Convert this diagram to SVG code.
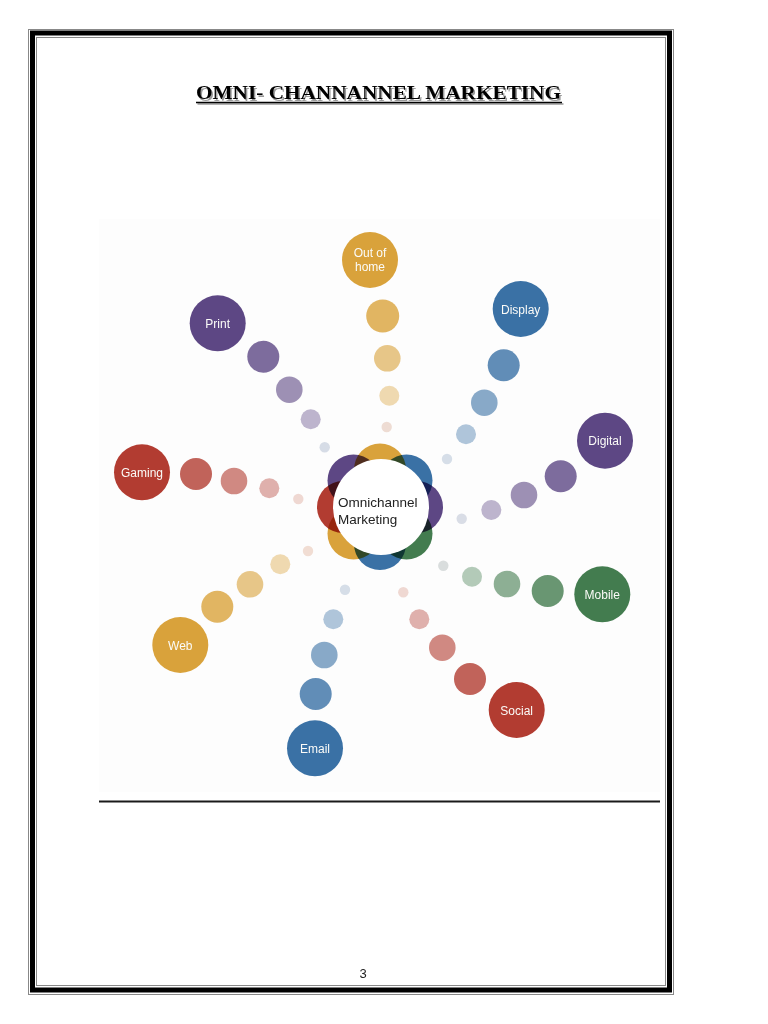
<svg xmlns="http://www.w3.org/2000/svg" width="768" height="1024" viewBox="0 0 768 1024">
<defs>
<style>
.lbl{font-family:"Liberation Sans",Arial,Helvetica,sans-serif;font-size:12px;fill:#fbfbf8;text-anchor:middle}
.ctr{font-family:"Liberation Sans",Arial,Helvetica,sans-serif;font-size:13.5px;fill:#222222}
.title{font-family:"Liberation Serif","Times New Roman",serif;font-size:18px;font-weight:bold}
.gold{fill:#D9A23B}.purple{fill:#5D4784}.blue{fill:#3A71A5}.green{fill:#437C4F}.red{fill:#B23C31}
.o8{fill-opacity:0.8}.o6{fill-opacity:0.6}.o4{fill-opacity:0.4}.o2{fill-opacity:0.22}
.petal{mix-blend-mode:multiply}
</style>
</defs>
<rect x="0" y="0" width="768" height="1024" fill="#ffffff"/>
<!-- page border -->
<g id="page-border" fill="none">
<rect x="28.5" y="29.5" width="645" height="965" stroke="#888888" stroke-width="1"/>
<rect x="32.5" y="33" width="637" height="957" stroke="#000000" stroke-width="5"/>
<rect x="36.5" y="37.5" width="629" height="948" stroke="#888888" stroke-width="1"/>
</g>
<!-- title -->
<g id="title">
<text class="title" x="197.5" y="100.5" fill="#9a9a9a" textLength="365" lengthAdjust="spacingAndGlyphs">OMNI- CHANNANNEL MARKETING</text>
<line x1="197.5" y1="104" x2="563.5" y2="104" stroke="#9a9a9a" stroke-width="1.5"/>
<text class="title" x="196" y="99" fill="#000000" textLength="365" lengthAdjust="spacingAndGlyphs">OMNI- CHANNANNEL MARKETING</text>
<line x1="196" y1="102.5" x2="562" y2="102.5" stroke="#000000" stroke-width="1.5"/>
</g>
<!-- diagram background -->
<rect x="99" y="219" width="561" height="573" fill="#fdfdfd"/>
<!-- trails (decorative dots) -->
<g id="connectors">
<g class="gold"><circle cx="382.7" cy="316" r="16.5" class="o8"/><circle cx="387.3" cy="358.3" r="13.3" class="o6"/><circle cx="389.3" cy="395.7" r="10" class="o4"/><circle cx="386.7" cy="427" r="5.2" fill="#EEDCD3"/></g>
<g class="blue"><circle cx="503.7" cy="365.3" r="16" class="o8"/><circle cx="484.3" cy="402.7" r="13.3" class="o6"/><circle cx="466" cy="434.3" r="10" class="o4"/><circle cx="447" cy="459" r="5.2" fill="#D6DEE8"/></g>
<g class="purple"><circle cx="560.7" cy="476.3" r="16" class="o8"/><circle cx="524" cy="495" r="13.3" class="o6"/><circle cx="491.3" cy="510" r="10" class="o4"/><circle cx="461.7" cy="518.7" r="5.2" fill="#D9DDE6"/></g>
<g class="green"><circle cx="547.7" cy="591" r="16" class="o8"/><circle cx="507" cy="584" r="13.3" class="o6"/><circle cx="472" cy="576.7" r="10" class="o4"/><circle cx="443.3" cy="565.7" r="5.2" fill="#D9DDDD"/></g>
<g class="red"><circle cx="470" cy="679" r="16" class="o8"/><circle cx="442.3" cy="647.7" r="13.3" class="o6"/><circle cx="419.3" cy="619.3" r="10" class="o4"/><circle cx="403.3" cy="592.3" r="5.2" fill="#EFD8D2"/></g>
<g class="blue"><circle cx="315.7" cy="694" r="16" class="o8"/><circle cx="324.3" cy="655" r="13.3" class="o6"/><circle cx="333.3" cy="619.3" r="10" class="o4"/><circle cx="345" cy="589.7" r="5.2" fill="#D6DEE8"/></g>
<g class="gold"><circle cx="217.3" cy="606.7" r="16" class="o8"/><circle cx="250" cy="584.3" r="13.3" class="o6"/><circle cx="280.3" cy="564.3" r="10" class="o4"/><circle cx="308" cy="551" r="5.2" fill="#F1DDD3"/></g>
<g class="red"><circle cx="196" cy="474" r="16" class="o8"/><circle cx="234" cy="481" r="13.3" class="o6"/><circle cx="269.3" cy="488.3" r="10" class="o4"/><circle cx="298.3" cy="499" r="5.2" fill="#EFD8D2"/></g>
<g class="purple"><circle cx="263.3" cy="356.7" r="16" class="o8"/><circle cx="289.3" cy="389.7" r="13.3" class="o6"/><circle cx="310.7" cy="419.3" r="10" class="o4"/><circle cx="324.7" cy="447.3" r="5.2" fill="#D6DCE6"/></g>
</g>
<!-- center hub -->
<g id="node-omnichannel">
<g style="isolation:isolate">
<circle class="petal gold" cx="380" cy="469.5" r="26"/>
<circle class="petal blue" cx="406.5" cy="480.5" r="26"/>
<circle class="petal purple" cx="417" cy="507" r="26"/>
<circle class="petal green" cx="406.5" cy="533.5" r="26"/>
<circle class="petal blue" cx="380" cy="544" r="26"/>
<circle class="petal gold" cx="353.5" cy="533.5" r="26"/>
<circle class="petal red" cx="343" cy="507" r="26"/>
<circle class="petal purple" cx="353.5" cy="480.5" r="26"/>
</g>
<circle cx="381" cy="507" r="48" fill="#ffffff"/>
<text class="ctr" x="338" y="507">Omnichannel</text>
<text class="ctr" x="338" y="524">Marketing</text>
</g>
<!-- channel nodes -->
<g id="node-out-of-home"><circle class="gold" cx="370" cy="260" r="28"/><text class="lbl" x="370" y="257">Out of</text><text class="lbl" x="370" y="270.5">home</text></g>
<g id="node-display"><circle class="blue" cx="520.7" cy="309" r="28"/><text class="lbl" x="520.7" y="313.5">Display</text></g>
<g id="node-digital"><circle class="purple" cx="605" cy="440.7" r="28"/><text class="lbl" x="605" y="445">Digital</text></g>
<g id="node-mobile"><circle class="green" cx="602.3" cy="594.3" r="28"/><text class="lbl" x="602.3" y="598.5">Mobile</text></g>
<g id="node-social"><circle class="red" cx="516.7" cy="710" r="28"/><text class="lbl" x="516.7" y="714.5">Social</text></g>
<g id="node-email"><circle class="blue" cx="315" cy="748.3" r="28"/><text class="lbl" x="315" y="752.5">Email</text></g>
<g id="node-web"><circle class="gold" cx="180.3" cy="645" r="28"/><text class="lbl" x="180.3" y="649.5">Web</text></g>
<g id="node-gaming"><circle class="red" cx="142" cy="472.3" r="28"/><text class="lbl" x="142" y="476.5">Gaming</text></g>
<g id="node-print"><circle class="purple" cx="217.7" cy="323.3" r="28"/><text class="lbl" x="217.7" y="327.5">Print</text></g>
<!-- rule and page number -->
<line x1="99" y1="801.5" x2="660" y2="801.5" stroke="#1a1a1a" stroke-width="2"/>
<text x="363" y="978" font-family="'Liberation Sans',Arial,sans-serif" font-size="13" fill="#222222" text-anchor="middle">3</text>
</svg>
